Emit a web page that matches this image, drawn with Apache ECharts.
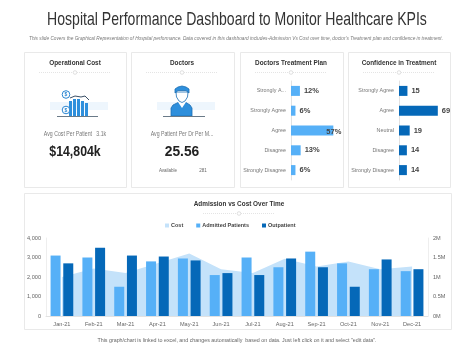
<!DOCTYPE html>
<html>
<head>
<meta charset="utf-8">
<style>
  html, body { margin: 0; padding: 0; background: #fff; }
  #main { width: 474px; height: 355px; }
</style>
<script src="https://cdn.jsdelivr.net/npm/echarts@6/dist/echarts.min.js"></script>
</head>
<body>
<div id="main"></div>
<script>
var months = ['Jan-21', 'Feb-21', 'Mar-21', 'Apr-21', 'May-21', 'Jun-21', 'Jul-21', 'Aug-21', 'Sep-21', 'Oct-21', 'Nov-21', 'Dec-21'];
var admitted = [3100, 3000, 1500, 2800, 2950, 2100, 3000, 2500, 3300, 2700, 2400, 2300];
var outpatient = [2700, 3500, 3100, 3050, 2850, 2200, 2100, 2950, 2500, 1500, 2900, 2400];
var cost = [1.0, 1.22, 1.1, 1.35, 1.6, 1.2, 1.1, 1.47, 1.27, 1.4, 1.2, 1.27];

var planLabels = ['Strongly A...', 'Strongly Agree', 'Agree', 'Disagree', 'Strongly Disagree'];
var planValues = [12, 6, 57, 13, 6];
var confidenceLabels = ['Strongly Agree', 'Agree', 'Neutral', 'Disagree', 'Strongly Disagree'];
var confidenceValues = [15, 69, 19, 14, 14];

var LIGHT = '#56b0f7';
var DARK = '#0568b8';
var AREA = '#c4e2fa';
var SANS = '"Liberation Sans", sans-serif';

var panels = [[24, 52, 102, 135], [131, 52, 103, 135], [240, 52, 103, 135], [348, 52, 102, 135], [24, 193, 427, 136]];
var panelTitles = [['Operational Cost', 75, 63], ['Doctors', 182, 63], ['Doctors Treatment Plan', 291, 63], ['Confidence in Treatment', 399, 63], ['Admission vs Cost Over Time', 239, 204]];

function text(str, x, y, size, opts) {
  opts = opts || {};
  return {
    type: 'text', x: x, y: y, silent: true,
    scaleX: opts.squeeze || 1,
    style: {
      text: str, fontSize: size,
      fontFamily: SANS,
      fontWeight: opts.weight || 'normal',
      fontStyle: opts.italic ? 'italic' : 'normal',
      fill: opts.color || '#555',
      align: opts.align || 'center',
      verticalAlign: 'middle'
    }
  };
}

function rect(x, y, w, h, fill) {
  return { type: 'rect', silent: true, shape: { x: x, y: y, width: w, height: h }, style: { fill: fill } };
}

function circle(x, y, r, fill, stroke) {
  return { type: 'circle', silent: true, shape: { cx: x, cy: y, r: r }, style: { fill: fill || 'none', stroke: stroke || null, lineWidth: 1 } };
}

function poly(points, stroke) {
  return { type: 'polyline', silent: true, shape: { points: points }, style: { fill: 'none', stroke: stroke, lineWidth: 1 } };
}

function polygon(points, fill, stroke) {
  return { type: 'polygon', silent: true, shape: { points: points }, style: { fill: fill, stroke: stroke || null, lineWidth: 0.8 } };
}

var shapes = [];

panels.forEach(function (p) {
  shapes.push({
    type: 'rect', silent: true, z: -1,
    shape: { x: p[0] + 0.5, y: p[1] + 0.5, width: p[2], height: p[3] },
    style: { fill: '#fff', stroke: '#e9e9e9', lineWidth: 1 }
  });
});

panelTitles.forEach(function (t) {
  shapes.push(text(t[0], t[1], t[2], 8, { weight: 'bold', color: '#333', squeeze: 0.8 }));
  var half = 36;
  shapes.push({
    type: 'line', silent: true,
    shape: { x1: t[1] - half, y1: t[2] + 9.5, x2: t[1] + half, y2: t[2] + 9.5 },
    style: { stroke: '#e4e4e4', lineWidth: 1, lineDash: [1, 1] }
  });
  shapes.push(circle(t[1], t[2] + 9.5, 1.8, '#fff', '#e0e0e0'));
});

// top texts
shapes.push(text('Hospital Performance Dashboard to Monitor Healthcare KPIs', 237, 20, 19, { color: '#333', squeeze: 0.74 }));
shapes.push(text('This slide Covers the Graphical Representation of Hospital performance. Data covered in this dashboard includes-Admission Vs Cost over time, doctor\'s Treatment plan and confidence in treatment.', 236, 38.5, 5, { italic: true, color: '#777', squeeze: 0.95 }));
shapes.push(text('This graph/chart is linked to excel, and changes automatically  based on data. Just left click on it and select "edit data".', 237, 340, 6.2, { color: '#666', squeeze: 0.86 }));

// kpi texts
shapes.push(text('Avg Cost Per Patient   3.1k', 75, 134, 6.5, { color: '#777', squeeze: 0.8 }));
shapes.push(text('$14,804k', 75, 152, 14.5, { weight: 'bold', color: '#222', squeeze: 0.85 }));
shapes.push(text('Avg Patient Per Dr Per M...', 182, 134, 6.5, { color: '#777', squeeze: 0.8 }));
shapes.push(text('25.56', 182, 152, 14.5, { weight: 'bold', color: '#222', squeeze: 0.95 }));
shapes.push(text('Available', 168, 171, 4.5, { color: '#666' }));
shapes.push(text('281', 203, 171, 4.5, { color: '#666' }));

// money icon
shapes.push(rect(50, 102, 58, 8, '#eef6fd'));
[[69, 101, 3, 15], [73, 99, 3, 17], [77, 99, 3, 17], [81, 101, 3, 15], [85, 103, 3, 13]].forEach(function (b) {
  shapes.push(rect(b[0], b[1], b[2], b[3], '#2e8fdc'));
});
shapes.push(circle(66, 94.5, 3.8, '#fff', '#2a86d2'));
shapes.push(circle(66, 110, 3.8, '#fff', '#2a86d2'));
shapes.push(text('$', 66, 94.7, 5, { color: '#2a86d2', weight: 'bold' }));
shapes.push(text('$', 66, 110.2, 5, { color: '#2a86d2', weight: 'bold' }));
shapes.push(poly([[70, 98], [75, 96], [81, 97], [85, 96], [89, 100]], '#3a4f66'));
shapes.push({ type: 'line', silent: true, shape: { x1: 57, y1: 116.5, x2: 98, y2: 116.5 }, style: { stroke: '#6a7a88', lineWidth: 1 } });

// doctor icon
shapes.push(rect(157, 102, 58, 8, '#eef6fd'));
shapes.push(polygon([[171, 116], [171, 108], [173, 105], [178, 102.5], [186, 102.5], [190, 105], [192, 108], [192, 116]], '#2e8fdc', '#1c6eb4'));
shapes.push(polygon([[178, 102], [182, 108], [186, 102]], '#fff'));
shapes.push(polygon([[176, 92], [176.5, 97], [179, 101], [182, 102.5], [185, 101], [187.5, 97], [188, 92]], '#fff', '#1c6eb4'));
shapes.push(polygon([[175, 93], [175, 89], [178, 87], [182, 86], [186, 87], [189, 89], [189, 93], [186, 90.5], [182, 90.5], [178, 90.5]], '#2e8fdc', '#1c6eb4'));
shapes.push({ type: 'line', silent: true, shape: { x1: 163, y1: 116.5, x2: 205, y2: 116.5 }, style: { stroke: '#6a7a88', lineWidth: 1 } });

function miniSeries(values, color, index, format, overlap) {
  return {
    type: 'bar', xAxisIndex: index, yAxisIndex: index,
    barWidth: 10, silent: true,
    itemStyle: { color: color },
    label: { show: true, position: 'right', distance: 4, fontSize: 7.5, fontWeight: 'bold', fontFamily: SANS, color: '#444', formatter: format },
    data: values.map(function (v) {
      return v === overlap ? { value: v, label: { offset: [-11, 1] } } : v;
    })
  };
}

function miniY(index, labels) {
  return {
    gridIndex: index, type: 'category', inverse: true, data: labels,
    axisTick: { show: false },
    axisLine: { lineStyle: { color: '#e2e2e2' } },
    axisLabel: { fontSize: 5.4, color: '#777', fontFamily: SANS, margin: 5, interval: 0 }
  };
}

var chart = echarts.init(document.getElementById('main'), null, { renderer: 'canvas' });
chart.setOption({
  animation: false,
  backgroundColor: '#fff',
  graphic: { elements: shapes },
  grid: [
    { left: 46, top: 238, width: 382, height: 78 },
    { left: 291, top: 81, width: 52, height: 99 },
    { left: 399, top: 81, width: 45, height: 99 }
  ],
  legend: {
    top: 217.5, left: 160, itemWidth: 4, itemHeight: 4, itemGap: 13,
    textStyle: { fontSize: 5.5, fontWeight: 'bold', color: '#444', padding: [0, 0, 0, -3] },
    data: [
      { name: 'Cost', icon: 'rect' },
      { name: 'Admitted Patients', icon: 'rect' },
      { name: 'Outpatient', icon: 'rect' }
    ]
  },
  xAxis: [
    {
      gridIndex: 0, type: 'category', data: months,
      axisTick: { show: false },
      axisLine: { lineStyle: { color: '#e2e2e2' } },
      axisLabel: { fontSize: 5.6, color: '#666', margin: 5, fontFamily: SANS, interval: 0 }
    },
    { gridIndex: 1, type: 'value', min: 0, max: 70, show: false },
    { gridIndex: 2, type: 'value', min: 0, max: 80, show: false }
  ],
  yAxis: [
    {
      gridIndex: 0, type: 'value', min: 0, max: 4000, interval: 1000,
      axisTick: { show: false },
      axisLine: { show: true, lineStyle: { color: '#eeeeee' } },
      splitLine: { show: false },
      axisLabel: { fontSize: 5.6, color: '#666', margin: 5, fontFamily: SANS }
    },
    miniY(1, planLabels),
    miniY(2, confidenceLabels),
    {
      gridIndex: 0, type: 'value', position: 'right', min: 0, max: 2, interval: 0.5,
      axisTick: { show: false },
      axisLine: { show: true, lineStyle: { color: '#eeeeee' } },
      splitLine: { show: false },
      axisLabel: { fontSize: 5.6, color: '#666', margin: 5, fontFamily: SANS, formatter: '{value}M' }
    }
  ],
  series: [
    {
      name: 'Cost', type: 'line', xAxisIndex: 0, yAxisIndex: 3, data: cost, silent: true,
      showSymbol: false, lineStyle: { width: 0 }, itemStyle: { color: AREA },
      areaStyle: { color: AREA, opacity: 1 }, z: 1
    },
    {
      name: 'Admitted Patients', type: 'bar', xAxisIndex: 0, yAxisIndex: 0, data: admitted, silent: true,
      barWidth: 10, barGap: '27%', itemStyle: { color: LIGHT }, z: 2
    },
    {
      name: 'Outpatient', type: 'bar', xAxisIndex: 0, yAxisIndex: 0, data: outpatient, silent: true,
      barWidth: 10, barGap: '27%', itemStyle: { color: DARK }, z: 2
    },
    miniSeries(planValues, LIGHT, 1, '{c}%', 57),
    miniSeries(confidenceValues, DARK, 2, '{c}', -1)
  ]
});
</script>
</body>
</html>
